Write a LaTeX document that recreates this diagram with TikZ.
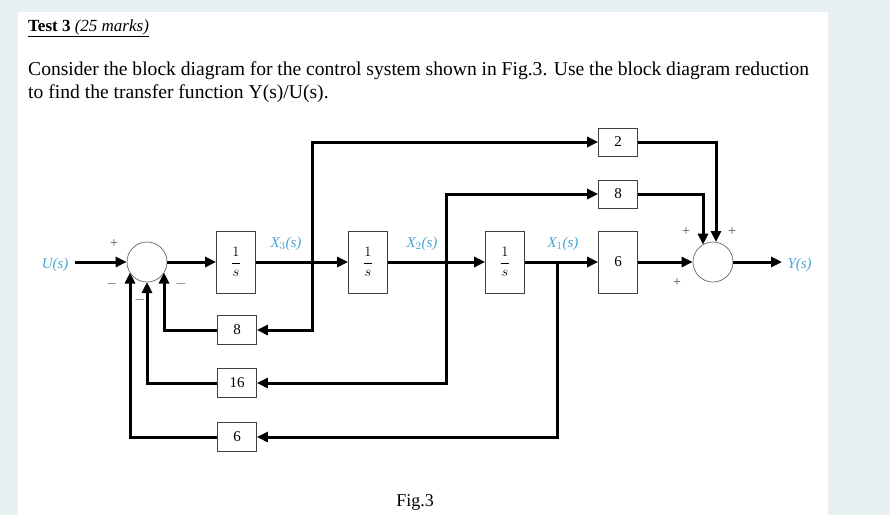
\documentclass[tikz,border=0pt]{standalone}
\usepackage{fontspec}
\setmainfont{Liberation Serif}
\usetikzlibrary{arrows.meta,calc}
\definecolor{bgc}{RGB}{232,240,244}
\definecolor{lbl}{RGB}{70,165,215}
\begin{document}
\begin{tikzpicture}[x=1pt,y=-1pt,
  blk/.style={draw=black!75,line width=0.7pt,fill=white,minimum width=39pt,inner sep=0pt,font=\fontsize{15}{15}\selectfont},
  sum/.style={circle,draw=black!60,line width=0.7pt,minimum size=40pt,inner sep=0pt},
  sig/.style={line width=3pt},
  arr/.style={sig,-{Triangle[length=11pt,width=10pt]}},
  lab/.style={text=lbl,font=\fontsize{15}{15}\selectfont\itshape},
  pm/.style={font=\fontsize{14}{14}\selectfont,text=black!70}]
\fill[bgc] (0,0) rectangle (890,515);
\fill[white] (18,12) rectangle (828,515);
\node[anchor=base west,inner sep=0pt] (title) at (28,31) {\fontsize{17}{20}\selectfont\underline{\textbf{Test 3} \textit{(25 marks)}}};
\node[anchor=north west,inner sep=0pt] (txt) at (28,61) {\parbox{781pt}{\fontsize{19.6}{23}\selectfont Consider the block diagram for the control system shown in Fig.3. Use the block diagram reduction to find the transfer function Y(s)/U(s).}};
% sums
\node[sum] (s1) at (147,262) {};
\node[sum] (s2) at (713,262) {};
% forward blocks
\node[blk,minimum height=62pt] (g1) at (236,262) {$\displaystyle\frac{1}{s}$};
\node[blk,minimum height=62pt] (g2) at (368,262) {$\displaystyle\frac{1}{s}$};
\node[blk,minimum height=62pt] (g3) at (505,262) {$\displaystyle\frac{1}{s}$};
\node[blk,minimum height=62pt] (g6) at (618,262) {6};
\node[blk,minimum height=28pt] (k2) at (618,142) {2};
\node[blk,minimum height=28pt] (k8) at (618,194) {8};
\node[blk,minimum height=29pt] (f8) at (237,330) {8};
\node[blk,minimum height=29pt] (f16) at (237,383) {16};
\node[blk,minimum height=29pt] (f6) at (237,437) {6};
% labels
\node[lab,anchor=east] (u) at (72,265) {U(s)};
\node[lab,anchor=west] (y) at (784,265) {Y(s)};
\node[lab] (lx3) at (286,244) {X$_3$(s)};
\node[lab] (lx2) at (422,244) {X$_2$(s)};
\node[lab] (lx1) at (563,244) {X$_1$(s)};
\node (fig) at (415,502) {\fontsize{18}{18}\selectfont Fig.3};
% coordinates
\coordinate (b3) at (312,262);
\coordinate (b2) at (446,262);
\coordinate (b1) at (557,262);
\coordinate (uin) at (75,262);
\coordinate (yout) at (782,262);
% forward path
\draw[arr] (uin) -- (s1.west);
\draw[arr] (s1.east) -- (g1.west);
\draw[arr] (g1.east) -- (g2.west);
\draw[arr] (g2.east) -- (g3.west);
\draw[arr] (g3.east) -- (g6.west);
\draw[arr] (g6.east) -- (s2.west);
\draw[arr] (s2.east) -- (yout);
% feedforward
\draw[arr] (b3) |- (k2.west);
\draw[arr] (b2) |- (k8.west);
\draw[arr] (k2.east) -| ($(s2.center)+(3,-20)$);
\draw[arr] (k8.east) -| ($(s2.center)+(-10,-17.3)$);
% feedback
\draw[arr] (b3) |- (f8.east);
\draw[arr] (b2 |- k8) |- (f16.east);
\draw[arr] (b1) |- (f6.east);
\draw[arr] (f8.west) -| ($(s1.center)+(17,10.5)$);
\draw[arr] (f16.west) -| ($(s1.center)+(0,20)$);
\draw[arr] (f6.west) -| ($(s1.center)+(-17,10.5)$);
% signs
\node[pm] (p1) at (114,244) {+};
\node[pm] (m1) at (112,284) {$-$};
\node[pm] (m2) at (140,300) {$-$};
\node[pm] (m3) at (181,284) {$-$};
\node[pm] (p2) at (686,232) {+};
\node[pm] (p3) at (732,232) {+};
\node[pm] (p4) at (677,283) {+};
\end{tikzpicture}
\end{document}
